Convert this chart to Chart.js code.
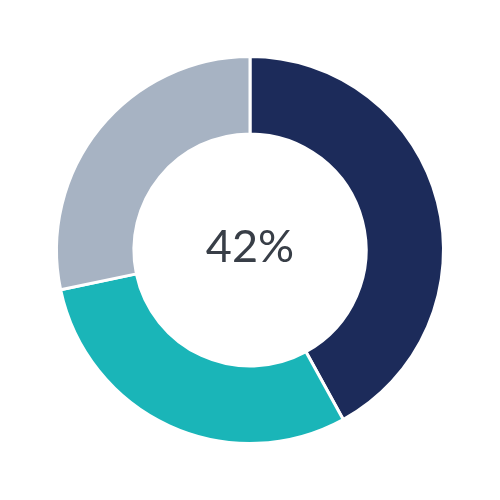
<!DOCTYPE html>
<html><head><meta charset="utf-8">
<script src="https://cdn.jsdelivr.net/npm/chart.js@4"></script>
<style>html,body{margin:0;padding:0;background:#fff}#wrap{width:500px;height:500px;position:relative}</style>
</head><body>
<div id="wrap"><canvas id="c" width="500" height="500"></canvas></div>
<script>
const categories = ['A', 'B', 'C'];
const values = [42, 29.7, 28.3];
const colors = ['#1c2b5a', '#1ab5b8', '#a7b3c3'];
const centerLabel = '42%';

const centerText = {
  id: 'centerText',
  afterDraw(chart) {
    const {ctx} = chart;
    const meta = chart.getDatasetMeta(0).data[0];
    ctx.save();
    ctx.font = '400 45px Lato, "Open Sans", sans-serif';
    ctx.fillStyle = '#383e47';
    ctx.textAlign = 'center';
    ctx.textBaseline = 'middle';
    ctx.fillText(centerLabel, meta.x, meta.y - 3);
    ctx.restore();
  }
};

new Chart(document.getElementById('c'), {
  type: 'doughnut',
  data: {
    labels: categories,
    datasets: [{ data: values, backgroundColor: colors, borderColor: '#ffffff', borderWidth: 3 }]
  },
  options: {
    responsive: false,
    animation: false,
    cutout: '60%',
    layout: { padding: 55 },
    plugins: { legend: { display: false }, tooltip: { enabled: false } }
  },
  plugins: [centerText]
});
</script>
</body></html>
